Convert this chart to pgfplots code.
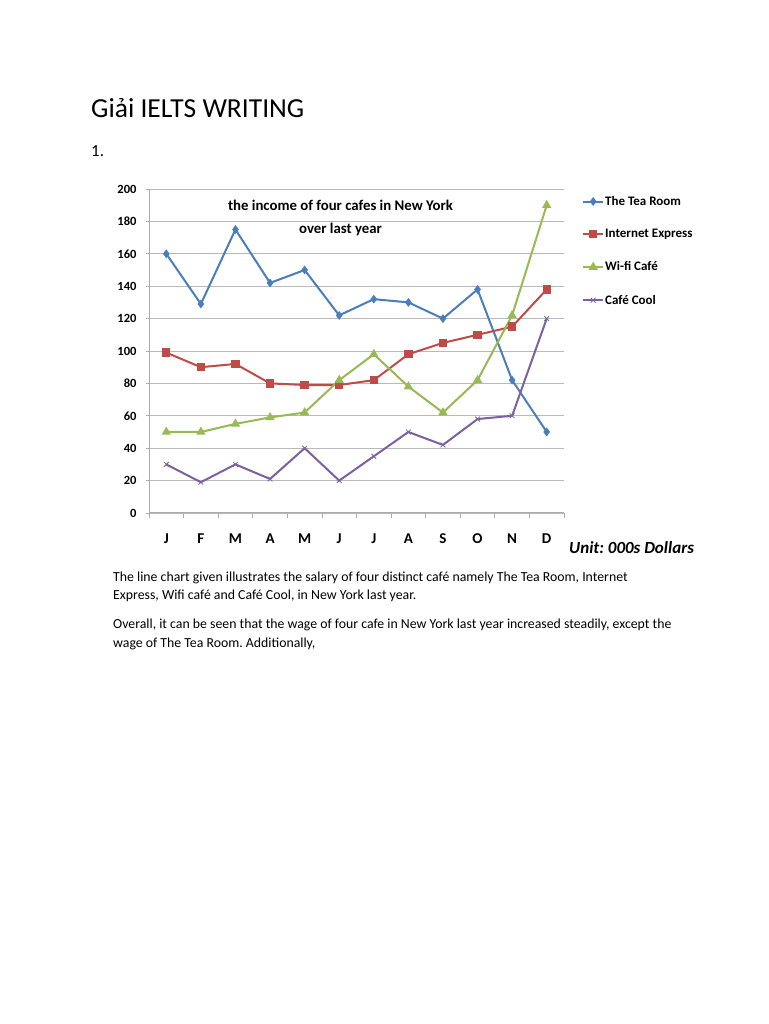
\documentclass[border=0pt]{standalone}
\usepackage{pgfplots}
\pgfplotsset{compat=1.18}
\usepackage{fontspec}
\setmainfont{Carlito}
\frenchspacing
\definecolor{tea}{HTML}{4A7EBB}
\definecolor{inet}{HTML}{BE4B48}
\definecolor{wifi}{HTML}{98B954}
\definecolor{cool}{HTML}{7D60A0}
\begin{document}
\frenchspacing
\begin{tikzpicture}[x=1pt,y=1pt]
\path[use as bounding box, fill=white] (0,0) rectangle (768,1024);
\node[anchor=base west, inner sep=0pt, font=\fontsize{27.5}{30}\selectfont] at (91,{1024-117.3}) {Giải IELTS WRITING};
\node[anchor=base west, inner sep=0pt, font=\fontsize{17}{20}\selectfont] at (91,{1024-156.7}) {1.};
\begin{axis}[
  at={(149pt,511pt)}, anchor=south west, scale only axis,
  width=415pt, height=324pt,
  xmin=-0.5, xmax=11.5, ymin=0, ymax=200,
  xtick={0,...,11}, xticklabels={J,F,M,A,M,J,J,A,S,O,N,D},
  minor xtick={-0.5,0.5,...,11.5},
  ytick={0,20,...,200},
  axis x line*=bottom, axis y line*=left,
  axis line style={draw=gray!65, line width=1pt},
  tick align=outside, major tick length=3pt, minor tick length=5pt,
  major x tick style={draw=none},
  tick style={gray!65, line width=0.8pt},
  ymajorgrids, grid style={gray!55, line width=0.9pt},
  /pgf/number format/assume math mode=true,
  yticklabel style={font=\bfseries\fontsize{12.5}{14}\selectfont, xshift=-6pt},
  xticklabel style={font=\bfseries\fontsize{15}{16}\selectfont, text height=10pt, text depth=0pt, yshift=-14pt},
  every axis plot/.append style={line width=2pt},
  legend image code/.code={\draw[mark repeat=2,mark phase=2,#1] plot coordinates {(0pt,0pt)(10pt,0pt)(20pt,0pt)};},
  legend style={at={(1,1)}, anchor=north west, xshift=17pt, yshift=-5pt, draw=none, fill=none,
    font=\bfseries\fontsize{13}{15}\selectfont, row sep=20.5pt, inner sep=1pt,
    nodes={inner sep=1pt}},
  legend cell align=left,
  clip=false,
]
\addplot[tea, mark=diamond*, mark size=2.8pt] coordinates {
(0,160) (1,129) (2,175) (3,142) (4,150) (5,122) (6,132) (7,130) (8,120) (9,138) (10,82) (11,50)};
\addlegendentry{The Tea Room}
\addplot[inet, mark=square*, mark size=3.2pt, mark options={solid}] coordinates {
(0,99) (1,90) (2,92) (3,80) (4,79) (5,79) (6,82) (7,98) (8,105) (9,110) (10,115) (11,138)};
\addlegendentry{Internet Express}
\addplot[wifi, mark=triangle*, mark size=3.4pt] coordinates {
(0,50) (1,50) (2,55) (3,59) (4,62) (5,82) (6,98) (7,78) (8,62) (9,82) (10,122) (11,190)};
\addlegendentry{Wi-fi Café}
\addplot[cool, mark=x, mark size=3.4pt, mark options={line width=0.8pt}] coordinates {
(0,30) (1,19) (2,30) (3,21) (4,40) (5,20) (6,35) (7,50) (8,42) (9,58) (10,60) (11,120)};
\addlegendentry{Café Cool}
\end{axis}
\node[align=center, inner sep=0pt, font=\bfseries\fontsize{14.8}{23}\selectfont] at (340.5,{1024-218}) {the income of four cafes in New York\\over last year};
\node[anchor=base west, inner sep=0pt, font=\bfseries\itshape\fontsize{17}{20}\selectfont] at (569,{1024-554}) {Unit: 000s Dollars};
\begin{scope}[every node/.style={anchor=base west, inner sep=0pt, font=\fontsize{13.8}{16}\selectfont}]
\node at (113,{1024-581.7}) {The line chart given illustrates the salary of four distinct café namely The Tea Room, Internet};
\node at (113,{1024-599.3}) {Express, Wifi café and Café Cool, in New York last year.};
\node at (113,{1024-629}) {Overall, it can be seen that the wage of four cafe in New York last year increased steadily, except the};
\node at (113,{1024-647.3}) {wage of The Tea Room. Additionally,};
\end{scope}
\end{tikzpicture}
\end{document}
